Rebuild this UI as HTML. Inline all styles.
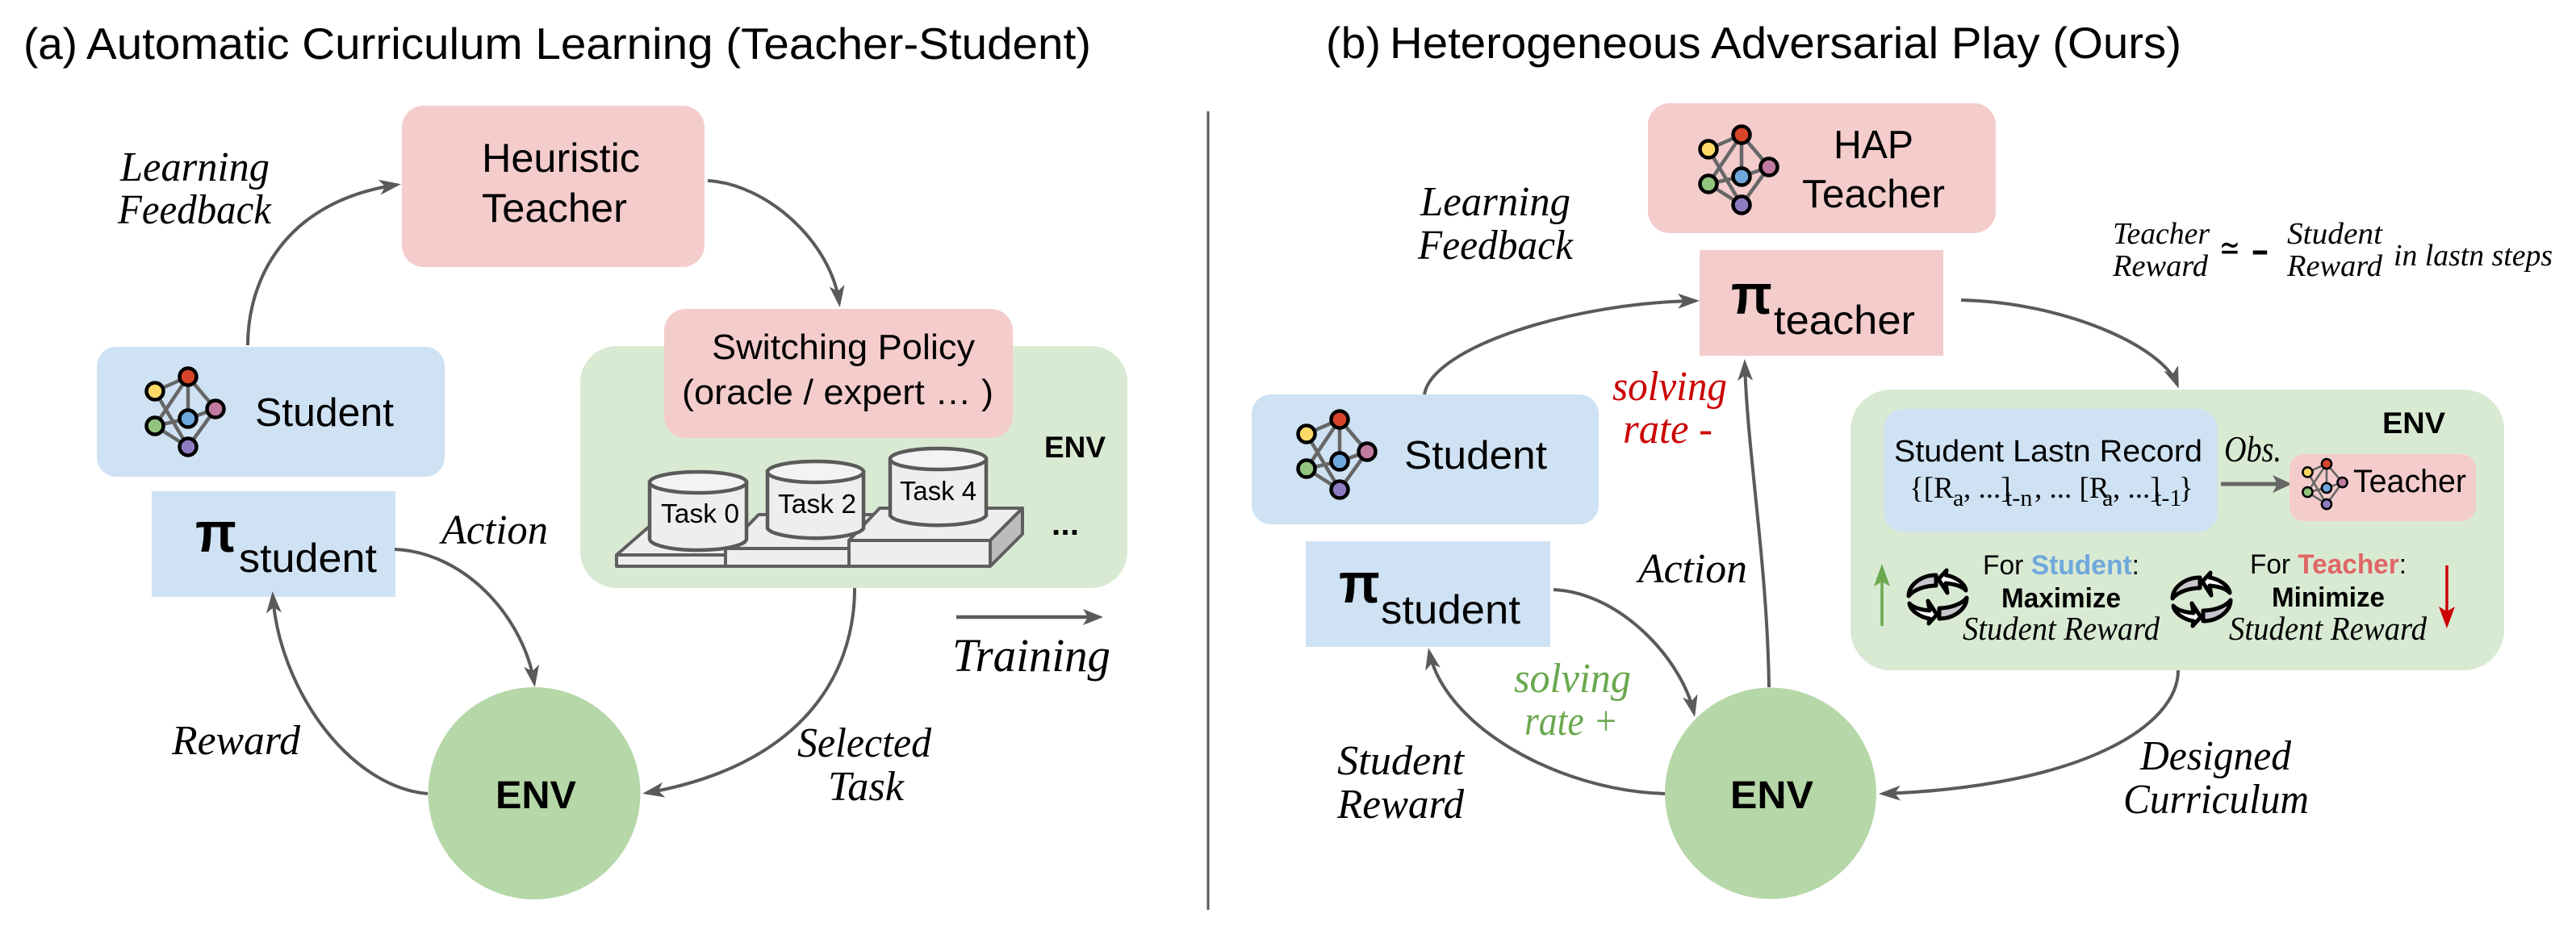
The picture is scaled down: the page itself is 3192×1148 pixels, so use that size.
<!DOCTYPE html>
<html lang="en">
<head>
<meta charset="utf-8">
<title>Automatic Curriculum Learning vs Heterogeneous Adversarial Play</title>
<style>
html,body{margin:0;padding:0;background:#fff}
svg{display:block}
text{fill:#000;font-family:"Liberation Sans",Arial,sans-serif}
.s{font-family:"Liberation Serif","Times New Roman",serif;font-style:italic}
.b{font-weight:bold}
.r{font-family:"Liberation Serif","Times New Roman",serif}
.c{fill:none;stroke:#5a5a5a;stroke-width:4;marker-end:url(#ah)}
.p{stroke:#5f5f5f;stroke-width:4;fill:#eeeeee;stroke-linejoin:round}
</style>
</head>
<body>
<svg xmlns="http://www.w3.org/2000/svg" width="3192" height="1148" viewBox="0 0 3192 1148">
<defs>
<marker id="ah" markerUnits="userSpaceOnUse" markerWidth="30" markerHeight="22" refX="22" refY="9.5" orient="auto">
<path d="M0,0 L27,9.5 L0,19 L7,9.5 Z" fill="#5a5a5a"/>
</marker>
<g id="net">
<g stroke="#666" stroke-width="4.5" fill="none">
<path d="M192,485 L233,467 M233,467 L192,528 M233,467 L233,519 M233,467 L267,507 M192,485 L233,554 M192,528 L233,519 M192,528 L233,554 M233,519 L267,507 M267,507 L233,554"/>
</g>
<g stroke="#000" stroke-width="4.5">
<circle cx="233" cy="467" r="10.5" fill="#d9452b"/>
<circle cx="192" cy="485" r="10.5" fill="#ffd966"/>
<circle cx="267" cy="507" r="10.5" fill="#c27ba0"/>
<circle cx="233" cy="519" r="10.5" fill="#6fa8dc"/>
<circle cx="192" cy="528" r="10.5" fill="#93c47d"/>
<circle cx="233" cy="554" r="10.5" fill="#8e7cc3"/>
</g>
</g>
<g id="cyc1" stroke="#000" stroke-width="5" stroke-linejoin="round">
<path d="M-2,-27 C-20,-27 -36,-15 -36,-1 C-30,-9 -15,-14 -2,-14 Z" fill="#c8c6cc"/>
<path d="M-35,8 C-30,14 -20,16 -10,17 L-12,5 L-1,22 L-11,33 L-10,27 C-22,25 -34,17 -35,8 Z" fill="#fff"/>
</g>
<g id="cyc">
<use href="#cyc1"/>
<use href="#cyc1" transform="rotate(180)"/>
</g>
</defs>

<rect width="3192" height="1148" fill="#fff"/>

<!-- Titles -->
<text x="29" y="73" font-size="55" textLength="67" lengthAdjust="spacing">(a)</text>
<text x="107" y="73" font-size="55" textLength="1245" lengthAdjust="spacingAndGlyphs">Automatic Curriculum Learning (Teacher-Student)</text>
<text x="1643" y="72" font-size="55" textLength="68" lengthAdjust="spacing">(b)</text>
<text x="1722" y="72" font-size="55" textLength="981" lengthAdjust="spacingAndGlyphs">Heterogeneous Adversarial Play (Ours)</text>

<!-- Divider -->
<rect x="1495.5" y="138" width="3" height="990" fill="#5a5a5a"/>

<!-- ===== Panel A ===== -->
<rect x="498" y="131" width="375" height="200" rx="27" fill="#f4cccc"/>
<text x="597" y="213" font-size="50" textLength="196" lengthAdjust="spacingAndGlyphs">Heuristic</text>
<text x="597" y="275" font-size="50" textLength="180" lengthAdjust="spacingAndGlyphs">Teacher</text>

<rect x="120" y="430" width="431" height="161" rx="24" fill="#cfe2f3"/>
<use href="#net"/>
<text x="316" y="528" font-size="49" textLength="172" lengthAdjust="spacingAndGlyphs">Student</text>

<rect x="188" y="609" width="302" height="131" fill="#cfe2f3"/>
<text x="242" y="684" font-size="70" class="b" textLength="51" lengthAdjust="spacingAndGlyphs">π</text>
<text x="296" y="709" font-size="50" textLength="171" lengthAdjust="spacingAndGlyphs">student</text>

<rect x="719" y="429" width="678" height="300" rx="45" fill="#d9ead3"/>
<rect x="823" y="383" width="432" height="160" rx="27" fill="#f4cccc"/>
<text x="882" y="445" font-size="44" textLength="326" lengthAdjust="spacingAndGlyphs">Switching Policy</text>
<text x="845" y="501" font-size="44" textLength="386" lengthAdjust="spacingAndGlyphs">(oracle / expert … )</text>
<text x="1294" y="567" font-size="37" class="b" textLength="76" lengthAdjust="spacingAndGlyphs">ENV</text>

<!-- Platforms -->
<path class="p" d="M764,688 L803,654 L925,654 L899,688 Z"/>
<rect class="p" x="764" y="688" width="135" height="14"/>
<path class="p" d="M899,680 L940,638 L1090,638 L1052,680 Z"/>
<rect class="p" x="899" y="680" width="153" height="22"/>
<path class="p" d="M1052,670 L1090,630 L1267,630 L1227,670 Z"/>
<rect class="p" x="1052" y="670" width="175" height="32"/>
<path class="p" d="M1227,670 L1267,630 L1267,662 L1227,702 Z" style="fill:#bcbcbc"/>

<!-- Cylinders -->
<g stroke="#5a5a5a" stroke-width="4.5" fill="#eeeeee">
<path d="M805,598 L805,668 A60,14 0 0 0 925,668 L925,598 Z"/>
<ellipse cx="865" cy="598" rx="60" ry="13" fill="#f3f3f3"/>
<path d="M951,585 L951,655 A60,14 0 0 0 1070,655 L1070,585 Z"/>
<ellipse cx="1010.5" cy="585" rx="59.5" ry="13" fill="#f3f3f3"/>
<path d="M1103,569 L1103,639 A60,14 0 0 0 1222,639 L1222,569 Z"/>
<ellipse cx="1162.5" cy="569" rx="59.5" ry="13" fill="#f3f3f3"/>
</g>
<text x="819" y="648" font-size="33" textLength="97" lengthAdjust="spacingAndGlyphs">Task 0</text>
<text x="964" y="636" font-size="33" textLength="97" lengthAdjust="spacingAndGlyphs">Task 2</text>
<text x="1115" y="620" font-size="33" textLength="95" lengthAdjust="spacingAndGlyphs">Task 4</text>
<text x="1303" y="663" font-size="40" class="b" textLength="34" lengthAdjust="spacing">...</text>

<circle cx="662" cy="983.5" r="131.5" fill="#b6d7a8"/>
<text x="614" y="1002" font-size="48" class="b" textLength="100" lengthAdjust="spacingAndGlyphs">ENV</text>

<!-- Connectors A -->
<path class="c" d="M307,428 C307,350 350,250 492,229"/>
<path class="c" d="M877,224 C950,228 1030,300 1040,376"/>
<path class="c" d="M489,681 C580,685 650,770 662,847"/>
<path class="c" d="M1059,729 C1059,840 990,950 801,983"/>
<path class="c" d="M530,984 C430,975 345,850 338,738"/>

<line x1="1185" y1="765" x2="1350" y2="765" stroke="#5a5a5a" stroke-width="4.5"/>
<path d="M1342,755 L1367,765 L1342,775 L1348,765 Z" fill="#5a5a5a"/>

<text class="s" x="149" y="224" font-size="52" textLength="185" lengthAdjust="spacingAndGlyphs">Learning</text>
<text class="s" x="146" y="277" font-size="52" textLength="190" lengthAdjust="spacingAndGlyphs">Feedback</text>
<text class="s" x="547" y="674" font-size="52" textLength="132" lengthAdjust="spacingAndGlyphs">Action</text>
<text class="s" x="213" y="935" font-size="52" textLength="159" lengthAdjust="spacingAndGlyphs">Reward</text>
<text class="s" x="988" y="938" font-size="52" textLength="166" lengthAdjust="spacingAndGlyphs">Selected</text>
<text class="s" x="1026" y="992" font-size="52" textLength="94" lengthAdjust="spacingAndGlyphs">Task</text>
<text class="s" x="1180" y="832" font-size="58" textLength="196" lengthAdjust="spacingAndGlyphs">Training</text>

<!-- ===== Panel B ===== -->
<rect x="2042" y="128" width="431" height="161" rx="27" fill="#f4cccc"/>
<use href="#net" transform="translate(1925,-300)"/>
<text x="2272" y="196" font-size="49" textLength="99" lengthAdjust="spacingAndGlyphs">HAP</text>
<text x="2233" y="257" font-size="49" textLength="177" lengthAdjust="spacingAndGlyphs">Teacher</text>

<rect x="2106" y="310" width="302" height="131" fill="#f4cccc"/>
<text x="2145" y="389" font-size="70" class="b" textLength="51" lengthAdjust="spacingAndGlyphs">π</text>
<text x="2198" y="414" font-size="50" textLength="175" lengthAdjust="spacingAndGlyphs">teacher</text>

<rect x="1551" y="489" width="430" height="161" rx="24" fill="#cfe2f3"/>
<use href="#net" transform="translate(1427,53)"/>
<text x="1740" y="581" font-size="49" textLength="177" lengthAdjust="spacingAndGlyphs">Student</text>

<rect x="1618" y="671" width="303" height="131" fill="#cfe2f3"/>
<text x="1659" y="747" font-size="70" class="b" textLength="51" lengthAdjust="spacingAndGlyphs">π</text>
<text x="1711" y="773" font-size="50" textLength="173" lengthAdjust="spacingAndGlyphs">student</text>

<circle cx="2194" cy="983.5" r="131" fill="#b6d7a8"/>
<text x="2144" y="1002" font-size="48" class="b" textLength="103" lengthAdjust="spacingAndGlyphs">ENV</text>

<!-- Env B -->
<rect x="2293" y="483" width="810" height="348" rx="50" fill="#d9ead3"/>
<rect x="2334" y="507" width="414" height="153" rx="25" fill="#cfe2f3"/>
<text x="2347" y="572" font-size="38" textLength="382" lengthAdjust="spacingAndGlyphs">Student Lastn Record</text>
<text class="r" y="617" font-size="37"><tspan x="2366">{[R</tspan><tspan x="2420" dy="10" font-size="30">a</tspan><tspan x="2433" dy="-10">, ...]</tspan><tspan x="2485" dy="10" font-size="30">t-n</tspan><tspan x="2521" dy="-10">, ... [R</tspan><tspan x="2605" dy="10" font-size="30">a</tspan><tspan x="2618" dy="-10">, ...]</tspan><tspan x="2670" dy="10" font-size="30">t-1</tspan><tspan x="2700" dy="-10">}</tspan></text>
<text class="s" x="2756" y="572" font-size="46" textLength="71" lengthAdjust="spacingAndGlyphs">Obs.</text>
<line x1="2752" y1="600" x2="2825" y2="600" stroke="#666" stroke-width="5"/>
<path d="M2816,589 L2840,600 L2816,611 L2822,600 Z" fill="#666"/>
<rect x="2837" y="563" width="231" height="83" rx="18" fill="#f4cccc"/>
<use href="#net" transform="translate(2749,306.5) scale(.575)"/>
<text x="2916" y="610" font-size="40" textLength="140" lengthAdjust="spacingAndGlyphs">Teacher</text>
<text x="2952" y="537" font-size="37" class="b" textLength="78" lengthAdjust="spacingAndGlyphs">ENV</text>

<text x="2457" y="712" font-size="34" textLength="194" lengthAdjust="spacingAndGlyphs">For <tspan class="b" style="fill:#6fa8dc">Student</tspan>:</text>
<text x="2480" y="753" font-size="34" class="b" textLength="148" lengthAdjust="spacingAndGlyphs">Maximize</text>
<text class="s" x="2432" y="793" font-size="41" textLength="244" lengthAdjust="spacingAndGlyphs">Student Reward</text>
<text x="2788" y="711" font-size="34" textLength="194" lengthAdjust="spacingAndGlyphs">For <tspan class="b" style="fill:#e06666">Teacher</tspan>:</text>
<text x="2815" y="752" font-size="34" class="b" textLength="140" lengthAdjust="spacingAndGlyphs">Minimize</text>
<text class="s" x="2762" y="793" font-size="41" textLength="245" lengthAdjust="spacingAndGlyphs">Student Reward</text>

<use href="#cyc" transform="translate(2401,740)"/>
<use href="#cyc" transform="translate(2728,743)"/>

<line x1="2332" y1="776" x2="2332" y2="715" stroke="#6aa84f" stroke-width="3.5"/>
<path d="M2332,699 L2342,727 L2332,721 L2322,727 Z" fill="#6aa84f"/>
<line x1="3032" y1="701" x2="3032" y2="762" stroke="#cc0000" stroke-width="3.5"/>
<path d="M3032,779 L3022,752 L3032,758 L3042,752 Z" fill="#cc0000"/>

<!-- Connectors B -->
<path class="c" d="M1765,489 C1775,430 1950,375 2101,373"/>
<path class="c" d="M2430,372 C2560,375 2680,430 2698,477"/>
<path class="c" d="M2192,852 C2190,700 2165,560 2162,450"/>
<path class="c" d="M1925,731 C2010,735 2085,820 2099,884"/>
<path class="c" d="M2063,984 C1930,980 1790,900 1771,808"/>
<path class="c" d="M2699,831 C2699,900 2580,975 2333,984"/>

<!-- Labels B -->
<text class="s" x="1760" y="267" font-size="52" textLength="186" lengthAdjust="spacingAndGlyphs">Learning</text>
<text class="s" x="1757" y="321" font-size="52" textLength="192" lengthAdjust="spacingAndGlyphs">Feedback</text>
<text class="s" x="1998" y="496" font-size="52" textLength="142" lengthAdjust="spacingAndGlyphs" style="fill:#cc0000">solving</text>
<text class="s" x="2011" y="549" font-size="52" textLength="111" lengthAdjust="spacingAndGlyphs" style="fill:#cc0000">rate -</text>
<text class="s" x="2030" y="722" font-size="52" textLength="135" lengthAdjust="spacingAndGlyphs">Action</text>
<text class="s" x="1876" y="858" font-size="52" textLength="145" lengthAdjust="spacingAndGlyphs" style="fill:#6aa84f">solving</text>
<text class="s" x="1889" y="911" font-size="52" textLength="116" lengthAdjust="spacingAndGlyphs" style="fill:#6aa84f">rate +</text>
<text class="s" x="1657" y="960" font-size="52" textLength="157" lengthAdjust="spacingAndGlyphs">Student</text>
<text class="s" x="1657" y="1014" font-size="52" textLength="157" lengthAdjust="spacingAndGlyphs">Reward</text>
<text class="s" x="2652" y="954" font-size="52" textLength="187" lengthAdjust="spacingAndGlyphs">Designed</text>
<text class="s" x="2631" y="1008" font-size="52" textLength="230" lengthAdjust="spacingAndGlyphs">Curriculum</text>

<text class="s" x="2618" y="302" font-size="38" textLength="120" lengthAdjust="spacingAndGlyphs">Teacher</text>
<text class="s" x="2618" y="342" font-size="38" textLength="118" lengthAdjust="spacingAndGlyphs">Reward</text>
<text x="2750" y="322" font-size="44" textLength="26" lengthAdjust="spacingAndGlyphs" style="font-family:'DejaVu Sans',sans-serif">≃</text>
<text class="b" x="2789" y="324" font-size="42" textLength="23" lengthAdjust="spacingAndGlyphs">-</text>
<text class="s" x="2834" y="302" font-size="38" textLength="118" lengthAdjust="spacingAndGlyphs">Student</text>
<text class="s" x="2834" y="342" font-size="38" textLength="118" lengthAdjust="spacingAndGlyphs">Reward</text>
<text class="s" x="2966" y="329" font-size="38" textLength="197" lengthAdjust="spacingAndGlyphs">in lastn steps</text>
</svg>
</body>
</html>
